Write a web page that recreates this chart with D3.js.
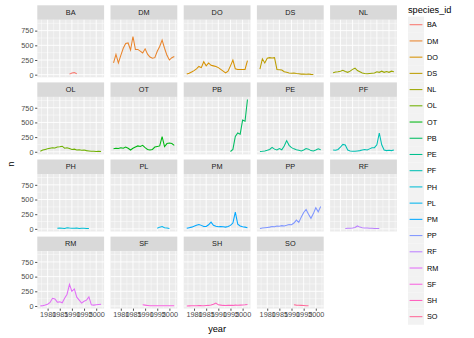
<!DOCTYPE html>
<html><head><meta charset="utf-8">
<script src="https://cdn.jsdelivr.net/npm/d3@7/dist/d3.min.js"></script>
<style>
body{margin:0;background:#fff}
text{font-family:"Liberation Sans",Arial,Helvetica,sans-serif}
</style>
</head><body>
<svg id="chart" width="474" height="338"></svg>
<script>
// ---------------- data ----------------
const years = [1977,1978,1979,1980,1981,1982,1983,1984,1985,1986,1987,1988,1989,1990,1991,1992,1993,1994,1995,1996,1997,1998,1999,2000,2001,2002];
const species = ["BA","DM","DO","DS","NL","OL","OT","PB","PE","PF","PH","PL","PM","PP","RF","RM","SF","SH","SO"];
const xTicks = [1980,1985,1990,1995,2000];
const yTicks = [0,250,500,750];
const _ = null;
const nBA = [_,_,_,_,_,_,_,_,_,_,_,_,10,30,35,15,_,_,_,_,_,_,_,_,_,_];
const nDM = [200,345,200,330,450,530,540,420,650,430,430,400,370,440,350,300,280,290,400,480,590,450,330,250,290,310];
const nDO = [12,25,45,70,100,140,120,220,150,200,160,150,140,120,90,60,30,60,150,250,100,90,90,90,90,240];
const nDS = [95,270,200,280,290,285,290,90,85,80,50,40,30,25,30,20,15,10,12,8,10,5,2,_,_,_];
const nNL = [31,45,50,60,75,55,40,60,90,110,70,50,30,20,15,20,25,30,50,40,60,40,55,40,60,50];
const nOL = [10,30,40,50,60,70,65,80,85,95,60,70,55,40,45,30,35,25,30,20,15,10,8,5,10,5];
const nOT = [50,60,55,70,60,80,60,30,60,80,100,90,110,70,40,30,40,80,90,100,260,90,140,150,140,110];
const nPB = [_,_,_,_,_,_,_,_,_,_,_,_,_,_,_,_,_,_,5,40,260,320,300,540,520,890];
const nPE = [6,10,15,25,40,75,45,30,55,35,100,190,110,70,50,35,25,15,30,55,45,20,15,30,50,35];
const nPF = [30,25,40,80,125,115,30,15,10,10,15,20,30,40,30,50,70,70,120,320,120,30,20,25,20,30];
const nPH = [_,_,_,_,_,_,_,10,15,12,8,20,14,10,12,16,8,10,12,8,5,_,_,_,_,_];
const nPL = [_,_,_,_,_,_,_,_,_,_,_,_,_,_,_,_,_,_,10,30,40,20,15,5,_,_];
const nPM = [10,20,30,45,60,75,60,40,40,70,115,60,45,35,40,35,30,40,60,100,285,80,50,35,30,20];
const nPP = [7,15,20,25,30,40,35,50,45,55,50,60,75,70,100,150,110,200,280,330,250,180,260,360,290,380];
const nRF = [_,_,_,_,_,5,10,10,15,25,50,30,20,15,15,10,10,8,5,5,_,_,_,_,_,_];
const nRM = [2,5,15,30,60,130,120,65,70,55,130,200,370,250,290,150,100,50,80,100,155,20,15,20,25,30];
const nSF = [_,_,_,_,_,_,_,_,_,_,_,_,20,15,10,5,5,5,5,5,5,5,5,5,5,5];
const nSH = [1,2,3,5,5,8,6,5,8,10,15,30,50,20,15,10,8,10,12,10,15,12,15,18,20,25];
const nSO = [_,_,_,_,_,_,_,_,_,_,_,_,_,_,20,15,12,10,8,5,5,_,_,_,_,_];

const counts = {BA:nBA,DM:nDM,DO:nDO,DS:nDS,NL:nNL,OL:nOL,OT:nOT,PB:nPB,PE:nPE,PF:nPF,
  PH:nPH,PL:nPL,PM:nPM,PP:nPP,RF:nRF,RM:nRM,SF:nSF,SH:nSH,SO:nSO};

// ---------------- colours (R hcl, hue_pal) ----------------
function hclR(h, c, l){
  const WU=0.1978398, WV=0.4683363;
  const hr=h*Math.PI/180, U=c*Math.cos(hr), V=c*Math.sin(hr);
  const Y = (l>7.999592)? Math.pow((l+16)/116,3) : l/903.3;
  const u = U/(13*l)+WU, v = V/(13*l)+WV;
  const X = 9*Y*u/(4*v), Z = -X/3 - 5*Y + 3*Y/v;
  const g = t => { t = t>0.00304 ? 1.055*Math.pow(t,1/2.4)-0.055 : 12.92*t; return Math.round(255*Math.max(0,Math.min(1,t))); };
  return d3.rgb(g(3.240479*X-1.537150*Y-0.498535*Z), g(-0.969256*X+1.875992*Y+0.041556*Z), g(0.055648*X-0.204043*Y+1.057311*Z)).formatHex();
}
const nS = species.length;
const hues = d3.range(nS).map(i => 15 + i*((375-360/nS)-15)/(nS-1));
const color = d3.scaleOrdinal().domain(species).range(hues.map(h => hclR(h,100,65)));

// ---------------- layout ----------------
const L = {left:37.3, top:5.3, pw:66.8, colStep:73.2, stripH:14.5, ph:57.5, rowStep:77.1, ncol:5};
const svg = d3.select("#chart");
svg.append("rect").attr("width",474).attr("height",338).attr("fill","#fff");

const xr = d3.extent(years), xpad = (xr[1]-xr[0])*0.05;
const x = d3.scaleLinear().domain([xr[0]-xpad, xr[1]+xpad]).range([0, L.pw]);
const ymax = d3.max(species, s => d3.max(counts[s]));
const y = d3.scaleLinear().domain([-0.05*ymax, 1.05*ymax]).range([L.ph, 0]);

function minors(ticks, dom){
  const step = ticks[1]-ticks[0];
  const ext = [ticks[0]-step, ...ticks, ticks[ticks.length-1]+step];
  return d3.pairs(ext).map(([a,b]) => (a+b)/2).filter(v => v>=dom[0] && v<=dom[1]);
}
const xMinor = minors(xTicks, x.domain()), yMinor = minors(yTicks, y.domain());

const line = d3.line().defined(d => d[1] != null).x(d => x(d[0])).y(d => y(d[1]));
const nrow = Math.ceil(nS/L.ncol);

species.forEach((s, i) => {
  const col = i % L.ncol, row = Math.floor(i / L.ncol);
  const g = svg.append("g").attr("transform", `translate(${L.left+col*L.colStep},${L.top+row*L.rowStep})`);
  g.append("rect").attr("width",L.pw).attr("height",L.stripH).attr("fill","#D9D9D9");
  g.append("text").attr("x",L.pw/2).attr("y",L.stripH/2+2.6).attr("text-anchor","middle")
    .attr("font-size",7.3).attr("fill","#1A1A1A").text(s);
  const p = g.append("g").attr("transform",`translate(0,${L.stripH})`);
  p.append("rect").attr("width",L.pw).attr("height",L.ph).attr("fill","#EBEBEB");
  p.selectAll(".xm").data(xMinor).join("line").attr("x1",d=>x(d)).attr("x2",d=>x(d)).attr("y1",0).attr("y2",L.ph)
    .attr("stroke","#fff").attr("stroke-width",0.45);
  p.selectAll(".ym").data(yMinor).join("line").attr("y1",d=>y(d)).attr("y2",d=>y(d)).attr("x1",0).attr("x2",L.pw)
    .attr("stroke","#fff").attr("stroke-width",0.45);
  p.selectAll(".xM").data(xTicks).join("line").attr("x1",d=>x(d)).attr("x2",d=>x(d)).attr("y1",0).attr("y2",L.ph)
    .attr("stroke","#fff").attr("stroke-width",0.9);
  p.selectAll(".yM").data(yTicks).join("line").attr("y1",d=>y(d)).attr("y2",d=>y(d)).attr("x1",0).attr("x2",L.pw)
    .attr("stroke","#fff").attr("stroke-width",0.9);
  const data = years.map((yr,k) => [yr, counts[s][k]]);
  p.append("path").datum(data).attr("d",line).attr("fill","none").attr("stroke",color(s)).attr("stroke-width",1.05);

  if (col === 0) {
    const ax = p.append("g").call(d3.axisLeft(y).tickValues(yTicks).tickSize(2.2).tickPadding(1.6));
    ax.select(".domain").remove();
    ax.selectAll(".tick line").attr("stroke","#333").attr("stroke-width",0.85);
    ax.selectAll(".tick text").attr("font-size",7.3).attr("fill","#4D4D4D").attr("font-family",'"Liberation Sans",Arial,sans-serif');
  }
  const below = i + L.ncol;
  if (row === nrow-1) {
    const ax = p.append("g").attr("transform",`translate(0,${L.ph})`)
      .call(d3.axisBottom(x).tickValues(xTicks).tickFormat(d3.format("d")).tickSize(2.2).tickPadding(1.4));
    ax.select(".domain").remove();
    ax.selectAll(".tick line").attr("stroke","#333").attr("stroke-width",0.85);
    ax.selectAll(".tick text").attr("font-size",7.3).attr("fill","#4D4D4D").attr("font-family",'"Liberation Sans",Arial,sans-serif');
  }
});

// axis titles
const plotTop = L.top + L.stripH, plotBottom = L.top + (nrow-1)*L.rowStep + L.stripH + L.ph;
svg.append("text").attr("transform",`translate(13.6,${(plotTop+plotBottom)/2}) rotate(-90)`)
  .attr("text-anchor","middle").attr("font-size",9.2).attr("fill","#000").text("n");
svg.append("text").attr("x", L.left + ((L.ncol-1)*L.colStep + L.pw)/2).attr("y", 331.5)
  .attr("text-anchor","middle").attr("font-size",9.2).attr("fill","#000").text("year");

// legend
const lg = svg.append("g").attr("transform","translate(408,0)");
lg.append("text").attr("x",0).attr("y",12.6).attr("font-size",9.2).attr("fill","#000").text("species_id");
const keyH = 16.22, key0 = 16.6;
species.forEach((s,i) => {
  const ky = key0 + i*keyH;
  lg.append("rect").attr("x",0).attr("y",ky).attr("width",16).attr("height",keyH).attr("fill","#F2F2F2");
  lg.append("line").attr("x1",1.6).attr("x2",14.4).attr("y1",ky+keyH/2).attr("y2",ky+keyH/2)
    .attr("stroke",color(s)).attr("stroke-width",1.05);
  lg.append("text").attr("x",19).attr("y",ky+keyH/2+2.6).attr("font-size",7.3).attr("fill","#000").text(s);
});
</script>
</body></html>
